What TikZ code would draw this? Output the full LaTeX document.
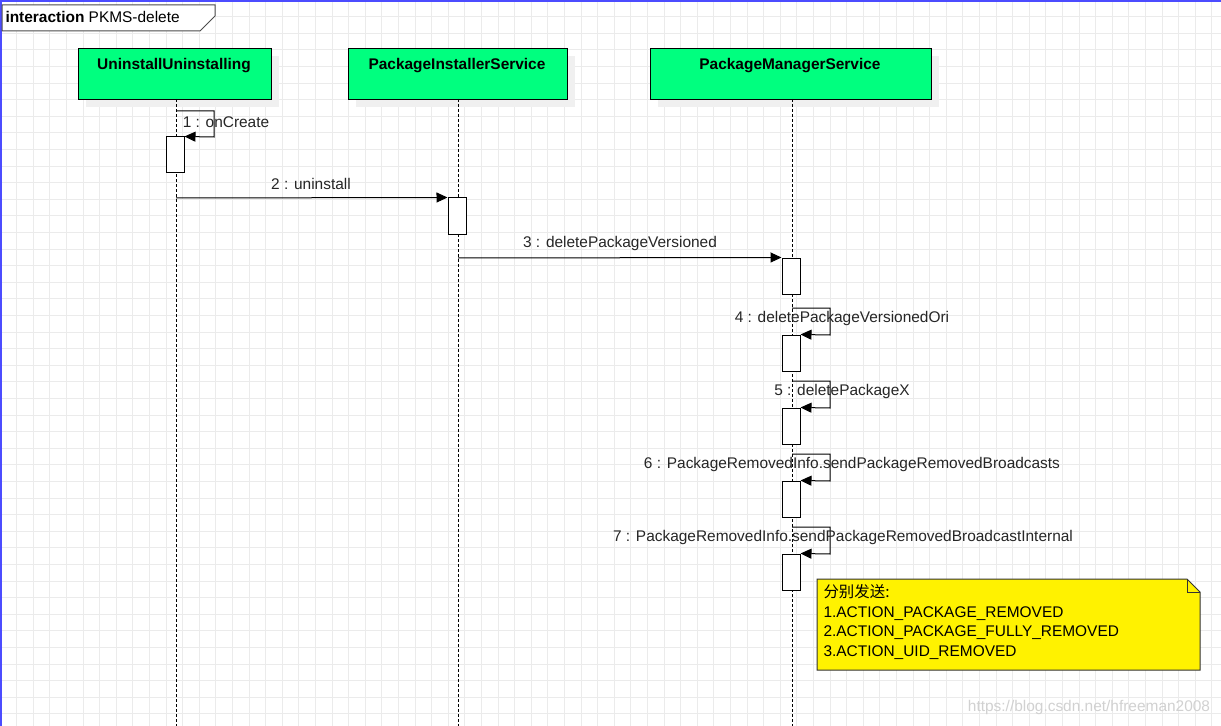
\documentclass[tikz,border=0pt]{standalone}
\usepackage{fontspec}
\setmainfont{Liberation Sans}
\newfontfamily\cjk{Noto Sans CJK SC}
\usetikzlibrary{arrows.meta}
\definecolor{head}{RGB}{0,255,127}
\begin{document}
\begin{tikzpicture}[x=1bp,y=-1bp, line width=1bp,
  lbl/.style={font=\fontsize{15.5}{17}\selectfont, text=black!85, inner sep=1pt},
  hd/.style={draw, fill=head, anchor=north west, inner sep=0pt},
  ht/.style={font=\bfseries\fontsize{15.5}{17}\selectfont},
  act/.style={draw, fill=white, minimum width=18bp, minimum height=36bp, inner sep=0pt},
  msg/.style={-{Triangle[length=11bp,width=10bp]}},
  life/.style={dashed, dash pattern=on 3bp off 2bp}]
\useasboundingbox (0,0) rectangle (1221,726);
\fill[white] (0,0) rectangle (1221,726);
\draw[black!8, line width=0.8bp, step=16.6bp] (0,0) grid (1221,726);
\draw[blue!70, line width=1.5bp] (1,726) -- (1,1) -- (1221,1);
\draw[black!70, fill=white] (2,5) -- (215,5) -- (215,16) -- (200,31) -- (2,31) -- cycle;
\node[anchor=west, font=\fontsize{15.5}{17}\selectfont, inner sep=0pt] (frm) at (5,17) {\textbf{interaction} PKMS-delete};
% heads
\fill[black!6] (86,56) rectangle (279,107);
\fill[black!6] (356,56) rectangle (575,107);
\fill[black!6] (658,56) rectangle (939,107);
\node[hd, minimum width=193bp, minimum height=51bp] (A) at (78,48) {};
\node[ht] (At) at (174,66) {UninstallUninstalling};
\node[hd, minimum width=219bp, minimum height=51bp] (B) at (348,48) {};
\node[ht] (Bt) at (457,66) {PackageInstallerService};
\node[hd, minimum width=281bp, minimum height=51bp] (C) at (650,48) {};
\node[ht] (Ct) at (790,66) {PackageManagerService};
% lifelines
\coordinate (Ae) at (176,726); \coordinate (Be) at (458,726); \coordinate (Ce) at (792,726);
\draw[life] (176,99) -- (Ae);
\draw[life] (458,99) -- (Be);
\draw[life] (792,99) -- (Ce);
% activations
\node[act] (a1) at (175,155) {};
\node[act] (b1) at (457,216) {};
\node[act] (c1) at (791,276) {};
\node[act] (c2) at (791,353) {};
\node[act] (c3) at (791,426) {};
\node[act] (c4) at (791,499) {};
\node[act] (c5) at (791,572) {};
% messages
\draw[msg] (176,111) -- (214,111) -- (214,137) -- (a1.north east);
\node[lbl] (l1) at (226,122) {1 : onCreate};
\draw[msg] (176,198) -- (b1.north west);
\node[lbl] (l2) at (311,184) {2 : uninstall};
\draw[msg] (458,258) -- (c1.north west);
\node[lbl] (l3) at (620,244) {3 : deletePackageVersioned};
\draw[msg] (792,308) -- (830,308) -- (830,335) -- (c2.north east);
\node[lbl] (l4) at (842,319) {4 : deletePackageVersionedOri};
\draw[msg] (792,381) -- (830,381) -- (830,408) -- (c3.north east);
\node[lbl] (l5) at (842,392) {5 : deletePackageX};
\draw[msg] (792,454) -- (830,454) -- (830,481) -- (c4.north east);
\node[lbl] (l6) at (852,465) {6 : PackageRemovedInfo.sendPackageRemovedBroadcasts};
\draw[msg] (792,527) -- (830,527) -- (830,554) -- (c5.north east);
\node[lbl] (l7) at (843,538) {7 : PackageRemovedInfo.sendPackageRemovedBroadcastInternal};
% note
\draw[fill=yellow, draw=black!80] (817,579) -- (1187,579) -- (1200,592) -- (1200,670) -- (817,670) -- cycle;
\draw[draw=black!80] (1187,579) -- (1187,592) -- (1200,592);
\node[anchor=north west, align=left, font=\fontsize{15.5}{19.6}\selectfont, inner sep=0pt] (note) at (823,584)
 {{\cjk 分别发送:}\\1.ACTION\_PACKAGE\_REMOVED\\2.ACTION\_PACKAGE\_FULLY\_REMOVED\\3.ACTION\_UID\_REMOVED};
\node[text=black!18, font=\fontsize{15.5}{17}\selectfont] (wm) at (1089,708) {https://blog.csdn.net/hfreeman2008};
\end{tikzpicture}
\end{document}
